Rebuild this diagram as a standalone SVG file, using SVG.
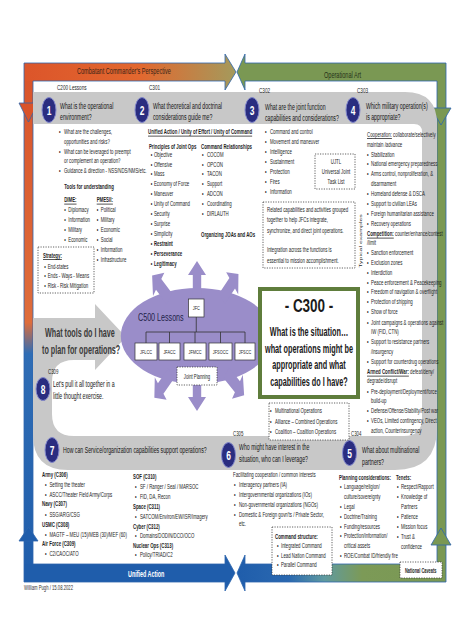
<svg xmlns="http://www.w3.org/2000/svg" width="474" height="632" viewBox="0 0 474 632">
<style>
text{font-family:"Liberation Sans",Arial,Helvetica,sans-serif;font-size:7.5px;fill:#1e1e1e}
.bd{font-weight:bold}
.ul{text-decoration:underline}
.q{font-size:9px;fill:#151515}
.num{font-size:13px;font-weight:bold;fill:#fff;text-anchor:middle}
.mid{text-anchor:middle}
.dot{fill:#fff;stroke:#3a3a3a;stroke-width:.8;stroke-dasharray:1.2 1.3}
.circ{fill:#2a2d80;stroke:#8288cc;stroke-width:1}
.org{fill:#fff;stroke:#333;stroke-width:.7}
.ln{fill:none;stroke:#333;stroke-width:.8}
.ob{fill:none;stroke:#2d66ad;stroke-width:.8}
.tiny{font-size:5.5px}
.big{font-size:12px;font-weight:bold;fill:#3a3a3a}
.c3{font-size:13px;font-weight:bold;fill:#1a1a1a;text-anchor:middle}
</style>
<defs>
<linearGradient id="gTop" gradientUnits="userSpaceOnUse" x1="24" y1="0" x2="236" y2="0">
<stop offset="0" stop-color="#dc552a"/><stop offset="0.55" stop-color="#e2682f"/><stop offset="1" stop-color="#a49a5c"/>
</linearGradient>
<linearGradient id="gLeft" gradientUnits="userSpaceOnUse" x1="0" y1="63" x2="0" y2="582">
<stop offset="0" stop-color="#d9532a"/><stop offset="0.5" stop-color="#de6d3c"/><stop offset="0.56" stop-color="#2f6db5"/><stop offset="1" stop-color="#1f5dab"/>
</linearGradient>
<linearGradient id="gBotR" gradientUnits="userSpaceOnUse" x1="236" y1="0" x2="446" y2="0">
<stop offset="0" stop-color="#1f5dab"/><stop offset="0.25" stop-color="#2a68b0"/><stop offset="0.42" stop-color="#5f9aa0"/><stop offset="0.6" stop-color="#7c9a57"/><stop offset="1" stop-color="#7a9853"/>
</linearGradient>
<path id="ray" d="M-7,10 L7,10 L7,-13 L15,-13 L0,-27 L-15,-13 L-7,-13 Z"/>
</defs>
<rect width="474" height="632" fill="#fff"/>

<g id="frame">
<rect x="24" y="63" width="9" height="519" fill="url(#gLeft)"/>
<rect x="437" y="63" width="9" height="519" fill="#7a9853"/>
<path d="M24,63 H225 V54 L236,72 L225,90 V81 H24 Z" fill="url(#gTop)"/>
<path d="M446,63 H245 V54 L237,72 L245,90 V81 H446 Z" fill="#7a9853"/>
<path d="M24,564 H225 V555 L235,573 L225,591 V582 H24 Z" fill="#1f5dab"/>
<path d="M446,564 H245 V555 L237,573 L245,591 V582 H446 Z" fill="url(#gBotR)"/>
<path class="ob" d="M225,63 H24 V582 H225 M245,582 H446 V63 H245 M225,81 H33 V564 H225 M245,564 H437 V81 H245"/>
<path class="ob" d="M225,63 V54 L236,72 L225,90 V81 M245,63 V54 L237,72 L245,90 V81 M225,564 V555 L235,573 L225,591 V582 M245,564 V555 L237,573 L245,591 V582"/>
<polygon points="19,103 38,103 28.5,122" fill="#d9532a" stroke="#2d66ad" stroke-width=".8"/>
<polygon points="19,541 38,541 28.5,527" fill="#1f5dab" stroke="#2d66ad" stroke-width=".8"/>
<polygon points="431,108 451,108 441,125" fill="#7a9853" stroke="#2d66ad" stroke-width=".8"/>
<polygon points="431,545 451,545 441,528" fill="#7a9853" stroke="#2d66ad" stroke-width=".8"/>
<g transform="translate(77,0) scale(.62,1)"><text x="0" y="74" style="font-size:9px;fill:#3a2418">Combatant Commander's Perspective</text></g>
<g transform="translate(324,0) scale(.62,1)"><text x="0" y="78" style="font-size:9px;fill:#26331a">Operational Art</text></g>
<g transform="translate(128,0) scale(.6,1)"><text x="0" y="577" class="bd" style="font-size:9px;fill:#fff">Unified Action</text></g>
</g>

<g id="track">
<path d="M33,92 L405,92 Q437,92 437,124 L437,428 Q437,470 395,470 L68,470 Q33,470 33,435 L33,318 L95,318 L95,304 L126,337 L95,370 L95,360 L74,360 Q52,360 52,382 L52,414 Q52,436 74,436 L404,436 Q422,436 422,418 L422,132 Q422,124 414,124 L33,124 Z" fill="#c8c8c8"/>
<g transform="translate(45,0) scale(.6,1)"><text class="big" x="0" y="337">What tools do I have</text></g>
<g transform="translate(42,0) scale(.6,1)"><text class="big" x="0" y="354">to plan for operations?</text></g>
</g>

<g id="c500">
<g transform="translate(197,336) scale(.6,1)" fill="#9a8dc9">
<ellipse cx="0" cy="0" rx="127" ry="48"/>
<use href="#ray" transform="translate(0,-48)"/>
<use href="#ray" transform="translate(49,-44) rotate(48)"/>
<use href="#ray" transform="translate(-53.8,-43.5) rotate(-51)"/>
<use href="#ray" transform="translate(0,48) rotate(180)"/>
<use href="#ray" transform="translate(57,42.9) rotate(127)"/>
<use href="#ray" transform="translate(-50.7,44) rotate(-131)"/>
</g>
<g transform="translate(138,0) scale(.65,1)"><text x="0" y="321" style="font-size:11px;fill:#23234a">C500 Lessons</text></g>
<rect class="org" x="188.5" y="299" width="15.5" height="18"/>
<g transform="translate(196.25,0) scale(.7,1)"><text class="tiny mid" x="0" y="310">JFC</text></g>
<rect class="org" x="135" y="343" width="22" height="17"/>
<rect class="org" x="159" y="343" width="21" height="17"/>
<rect class="org" x="184" y="343" width="22" height="17"/>
<rect class="org" x="209" y="343" width="23" height="17"/>
<rect class="org" x="235" y="343" width="20" height="17"/>
<g transform="translate(146,0) scale(.7,1)"><text class="tiny mid" x="0" y="354">JFLCC</text></g>
<g transform="translate(169.5,0) scale(.7,1)"><text class="tiny mid" x="0" y="354">JFACC</text></g>
<g transform="translate(195,0) scale(.7,1)"><text class="tiny mid" x="0" y="354">JFMCC</text></g>
<g transform="translate(220.5,0) scale(.7,1)"><text class="tiny mid" x="0" y="354">JFSOCC</text></g>
<g transform="translate(245,0) scale(.7,1)"><text class="tiny mid" x="0" y="354">JFSCC</text></g>
<rect class="dot" x="177" y="367" width="40" height="18"/>
<g transform="translate(197,0) scale(.6,1)"><text class="mid" x="0" y="379" style="font-size:7px">Joint Planning</text></g>
</g>

<g id="connectors">
<path class="ln" d="M196.25,317 V332 M146,332 H245 M146,332 V343 M169.5,332 V343 M195,332 V343 M220.5,332 V343 M245,332 V343"/>
</g>

<g id="c300">
<rect x="260" y="289" width="98" height="108" fill="#fff" stroke="#5f7d3c" stroke-width="4"/>
<g transform="translate(309,0) scale(.75,1)"><text x="0" y="312" class="mid bd" style="font-size:18px;fill:#1a1a1a">- C300 -</text></g>
<g transform="translate(309,0) scale(.56,1)">
<text class="c3" x="0" y="336">What is the situation…</text>
<text class="c3" x="0" y="353">what operations might be</text>
<text class="c3" x="0" y="369.5">appropriate and what</text>
<text class="c3" x="0" y="386">capabilities do I have?</text>
</g>
</g>

<g id="step1">
<g transform="translate(57,0) scale(.58,1)"><text x="0" y="90" style="font-size:8px">C200 Lessons</text></g>
<ellipse class="circ" cx="49" cy="110" rx="7" ry="12.5"/>
<g transform="translate(49,0) scale(.65,1)"><text class="num" x="0" y="114.6">1</text></g>
<g transform="translate(60,0) scale(.58,1)"><text class="q" x="0" y="109.5">What is the operational</text><text class="q" x="0" y="120.5">environment?</text></g>
</g>
<g id="step2">
<g transform="translate(149,0) scale(.58,1)"><text x="0" y="90" style="font-size:8px">C301</text></g>
<ellipse class="circ" cx="142" cy="110" rx="7" ry="12.5"/>
<g transform="translate(142,0) scale(.65,1)"><text class="num" x="0" y="114.6">2</text></g>
<g transform="translate(153,0) scale(.58,1)"><text class="q" x="0" y="109.5">What theoretical and doctrinal</text><text class="q" x="0" y="120.5">considerations guide me?</text></g>
</g>
<g id="step3">
<g transform="translate(259,0) scale(.58,1)"><text x="0" y="93" style="font-size:8px">C302</text></g>
<ellipse class="circ" cx="252" cy="110" rx="7" ry="12.5"/>
<g transform="translate(252,0) scale(.65,1)"><text class="num" x="0" y="114.6">3</text></g>
<g transform="translate(265,0) scale(.58,1)"><text class="q" x="0" y="110.5">What are the joint function</text><text class="q" x="0" y="121.5">capabilities and considerations?</text></g>
</g>
<g id="step4">
<g transform="translate(357,0) scale(.58,1)"><text x="0" y="93" style="font-size:8px">C303</text></g>
<ellipse class="circ" cx="353" cy="110" rx="7" ry="12.5"/>
<g transform="translate(353,0) scale(.65,1)"><text class="num" x="0" y="114.6">4</text></g>
<g transform="translate(366,0) scale(.58,1)"><text class="q" x="0" y="109.5">Which military operation(s)</text><text class="q" x="0" y="120.5">is appropriate?</text></g>
</g>
<g id="step5">
<g transform="translate(351,0) scale(.58,1)"><text x="0" y="436.5">C304</text></g>
<ellipse class="circ" cx="349.5" cy="453" rx="7" ry="12.5"/>
<g transform="translate(349.5,0) scale(.65,1)"><text class="num" x="0" y="457.6">5</text></g>
<g transform="translate(362,0) scale(.58,1)"><text class="q" x="0" y="453.5">What about multinational</text><text class="q" x="0" y="465.5">partners?</text></g>
</g>
<g id="step6">
<g transform="translate(233,0) scale(.58,1)"><text x="0" y="436.5">C305</text></g>
<ellipse class="circ" cx="228.5" cy="455" rx="7" ry="12.5"/>
<g transform="translate(228.5,0) scale(.65,1)"><text class="num" x="0" y="459.6">6</text></g>
<g transform="translate(239,0) scale(.58,1)"><text class="q" x="0" y="450.5">Who might have interest in the</text><text class="q" x="0" y="462.5">situation, who can I leverage?</text></g>
</g>
<g id="step7">
<ellipse class="circ" cx="52" cy="450" rx="7" ry="12.5"/>
<g transform="translate(52,0) scale(.65,1)"><text class="num" x="0" y="454.6">7</text></g>
<g transform="translate(63,0) scale(.58,1)"><text class="q" x="0" y="453.5">How can Service/organization capabilities support operations?</text></g>
</g>
<g id="step8">
<g transform="translate(48,0) scale(.58,1)"><text x="0" y="374.5">C309</text></g>
<ellipse class="circ" cx="43" cy="389" rx="7" ry="11.5"/>
<g transform="translate(43,0) scale(.65,1)"><text class="num" x="0" y="393.6">8</text></g>
<g transform="translate(53,0) scale(.58,1)"><text class="q" x="0" y="387.5">Let's pull it all together in a</text><text class="q" x="0" y="399.5">little thought exercise.</text></g>
</g>

<g id="panel1">
<rect class="dot" x="38" y="247" width="56" height="46"/>
<g transform="translate(59,0) scale(.58,1)">
<text y="134"><tspan x="0">•</tspan><tspan x="8.6">What are the challenges,</tspan></text>
<text x="8.6" y="144">opportunities and risks?</text>
<text y="154"><tspan x="0">•</tspan><tspan x="8.6">What can be leveraged to preempt</tspan></text>
<text x="8.6" y="163">or complement an operation?</text>
<text y="173"><tspan x="0">•</tspan><tspan x="8.6">Guidance &amp; direction - NSS/NDS/NMS/etc.</tspan></text>
<text x="9" y="189" class="bd">Tools for understanding</text>
<text x="9" y="202.5" class="bd ul">DIME:</text>
<text x="65" y="202.5" class="bd ul">PMESII:</text>
<text y="212.5"><tspan x="9">•</tspan><tspan x="16">Diplomacy</tspan></text>
<text y="222.5"><tspan x="9">•</tspan><tspan x="16">Information</tspan></text>
<text y="232.5"><tspan x="9">•</tspan><tspan x="16">Military</tspan></text>
<text y="242.5"><tspan x="9">•</tspan><tspan x="16">Economic</tspan></text>
<text y="212.5"><tspan x="65">•</tspan><tspan x="72">Political</tspan></text>
<text y="222.5"><tspan x="65">•</tspan><tspan x="72">Military</tspan></text>
<text y="232.5"><tspan x="65">•</tspan><tspan x="72">Economic</tspan></text>
<text y="242.5"><tspan x="65">•</tspan><tspan x="72">Social</tspan></text>
<text y="252.5"><tspan x="65">•</tspan><tspan x="72">Information</tspan></text>
<text y="262.5"><tspan x="65">•</tspan><tspan x="72">Infrastructure</tspan></text>
</g>
<g transform="translate(43,0) scale(.58,1)">
<text x="0" y="258" class="bd ul">Strategy:</text>
<text y="269"><tspan x="2.2">•</tspan><tspan x="8.1">End-states</tspan></text>
<text y="278.5"><tspan x="2.2">•</tspan><tspan x="8.1">Ends - Ways - Means</tspan></text>
<text y="288.5"><tspan x="2.2">•</tspan><tspan x="8.1">Risk - Risk Mitigation</tspan></text>
</g>
</g>

<g id="panel2">
<g transform="translate(148,0) scale(.58,1)">
<text x="0" y="134.5" class="bd ul">Unified Action / Unity of Effort / Unity of Command</text>
<text x="1.7" y="149.5" class="bd">Principles of Joint Ops</text>
<text y="157.5"><tspan x="4.6">•</tspan><tspan x="10.3">Objective</tspan></text>
<text y="167"><tspan x="4.6">•</tspan><tspan x="10.3">Offensive</tspan></text>
<text y="176.5"><tspan x="4.6">•</tspan><tspan x="10.3">Mass</tspan></text>
<text y="186.5"><tspan x="4.6">•</tspan><tspan x="10.3">Economy of Force</tspan></text>
<text y="196.5"><tspan x="4.6">•</tspan><tspan x="10.3">Maneuver</tspan></text>
<text y="206.5"><tspan x="4.6">•</tspan><tspan x="10.3">Unity of Command</tspan></text>
<text y="216.5"><tspan x="4.6">•</tspan><tspan x="10.3">Security</tspan></text>
<text y="226.5"><tspan x="4.6">•</tspan><tspan x="10.3">Surprise</tspan></text>
<text y="236.5"><tspan x="4.6">•</tspan><tspan x="10.3">Simplicity</tspan></text>
<text y="246.5" class="bd"><tspan x="4.6">•</tspan><tspan x="10.3">Restraint</tspan></text>
<text y="256.5" class="bd"><tspan x="4.6">•</tspan><tspan x="10.3">Perseverance</tspan></text>
<text y="266.5" class="bd"><tspan x="4.6">•</tspan><tspan x="10.3">Legitimacy</tspan></text>
</g>
<g transform="translate(201,0) scale(.58,1)">
<text x="0" y="149.5" class="bd">Command Relationships</text>
<text y="157.5"><tspan x="1.7">•</tspan><tspan x="10.3">COCOM</tspan></text>
<text y="167"><tspan x="1.7">•</tspan><tspan x="10.3">OPCON</tspan></text>
<text y="176.5"><tspan x="1.7">•</tspan><tspan x="10.3">TACON</tspan></text>
<text y="186.5"><tspan x="1.7">•</tspan><tspan x="10.3">Support</tspan></text>
<text y="196.5"><tspan x="1.7">•</tspan><tspan x="10.3">ADCON</tspan></text>
<text y="206.5"><tspan x="1.7">•</tspan><tspan x="10.3">Coordinating</tspan></text>
<text y="216.5"><tspan x="1.7">•</tspan><tspan x="10.3">DIRLAUTH</tspan></text>
<text x="0" y="237.5" class="bd">Organizing JOAs and AOs</text>
</g>
</g>

<g id="panel3">
<rect class="dot" x="315" y="154" width="40" height="35"/>
<rect class="dot" x="263" y="202" width="92" height="66"/>
<g transform="translate(265,0) scale(.58,1)">
<text y="134.5"><tspan x="0">•</tspan><tspan x="8.6">Command and control</tspan></text>
<text y="144.5"><tspan x="0">•</tspan><tspan x="8.6">Movement and maneuver</tspan></text>
<text y="154.5"><tspan x="0">•</tspan><tspan x="8.6">Intelligence</tspan></text>
<text y="164.5"><tspan x="0">•</tspan><tspan x="8.6">Sustainment</tspan></text>
<text y="174.5"><tspan x="0">•</tspan><tspan x="8.6">Protection</tspan></text>
<text y="184.5"><tspan x="0">•</tspan><tspan x="8.6">Fires</tspan></text>
<text y="194.5"><tspan x="0">•</tspan><tspan x="8.6">Information</tspan></text>
</g>
<g transform="translate(336,0) scale(.58,1)">
<text class="mid" x="0" y="164.5">UJTL</text>
<text class="mid" x="0" y="174.5">Universal Joint</text>
<text class="mid" x="0" y="184.5">Task List</text>
</g>
<g transform="translate(267,0) scale(.58,1)">
<text x="0" y="212.5">Related capabilities and activities grouped</text>
<text x="0" y="222.5">together to help JFCs integrate,</text>
<text x="0" y="233.5">synchronize, and direct joint operations.</text>
<text x="0" y="252.5">Integration across the functions is</text>
<text x="0" y="263.5">essential to mission accomplishment.</text>
</g>
</g>

<g id="panel4">
<g transform="translate(362,241) scale(.58,1) rotate(-90)"><text class="mid" x="0" y="0" style="font-size:7px">Typical examples</text></g>
<g transform="translate(367,0) scale(.58,1)">
<text x="0" y="137"><tspan class="ul">Cooperation:</tspan> collaborate/selectively</text>
<text x="0" y="147.5">maintain /advance</text>
<text y="157"><tspan x="0">•</tspan><tspan x="6.9">Stabilization</tspan></text>
<text y="166.5"><tspan x="0">•</tspan><tspan x="6.9">National emergency preparedness</tspan></text>
<text y="176.5"><tspan x="0">•</tspan><tspan x="6.9">Arms control, nonproliferation, &amp;</tspan></text>
<text x="6.9" y="186.5">disarmament</text>
<text y="196.5"><tspan x="0">•</tspan><tspan x="6.9">Homeland defense &amp; DSCA</tspan></text>
<text y="206.5"><tspan x="0">•</tspan><tspan x="6.9">Support to civilian LEAs</tspan></text>
<text y="216.5"><tspan x="0">•</tspan><tspan x="6.9">Foreign humanitarian assistance</tspan></text>
<text y="226.5"><tspan x="0">•</tspan><tspan x="6.9">Recovery operations</tspan></text>
<text x="0" y="236.5"><tspan class="bd ul">Competition:</tspan> counter/enhance/contest</text>
<text x="0" y="245.5">/limit</text>
<text y="255.5"><tspan x="0">•</tspan><tspan x="6.9">Sanction enforcement</tspan></text>
<text y="265.5"><tspan x="0">•</tspan><tspan x="6.9">Exclusion zones</tspan></text>
<text y="275.5"><tspan x="0">•</tspan><tspan x="6.9">Interdiction</tspan></text>
<text y="285.5"><tspan x="0">•</tspan><tspan x="6.9">Peace enforcement &amp; Peacekeeping</tspan></text>
<text y="294.5"><tspan x="0">•</tspan><tspan x="6.9">Freedom of navigation &amp; overflight</tspan></text>
<text y="304.5"><tspan x="0">•</tspan><tspan x="6.9">Protection of shipping</tspan></text>
<text y="314.5"><tspan x="0">•</tspan><tspan x="6.9">Show of force</tspan></text>
<text y="325"><tspan x="0">•</tspan><tspan x="6.9">Joint campaigns &amp; operations against</tspan></text>
<text x="6.9" y="334.5">IW (FID, CTN)</text>
<text y="344.5"><tspan x="0">•</tspan><tspan x="6.9">Support to resistance partners</tspan></text>
<text x="6.9" y="354.5">/insurgency</text>
<text y="364.5"><tspan x="0">•</tspan><tspan x="6.9">Support for counterdrug operations</tspan></text>
<text x="0" y="374.5"><tspan class="bd ul">Armed Conflict/War:</tspan> defeat/deny/</text>
<text x="0" y="383.5">degrade/disrupt</text>
<text y="394.5"><tspan x="0">•</tspan><tspan x="6.9">Pre-deployment/Deployment/force</tspan></text>
<text x="6.9" y="403.5">build-up</text>
<text y="413.5"><tspan x="0">•</tspan><tspan x="6.9">Defense/Offense/Stability/Post war</tspan></text>
<text y="423.5"><tspan x="0">•</tspan><tspan x="6.9">VEOs, Limited contingency, Direct</tspan></text>
<text x="6.9" y="433.5">action, Counterinsurgency</text>
</g>
</g>

<g id="multinational">
<rect class="dot" x="269" y="403" width="80" height="37"/>
<g transform="translate(270,0) scale(.58,1)">
<text y="413.5"><tspan x="0">•</tspan><tspan x="8.6">Multinational Operations</tspan></text>
<text y="424.5"><tspan x="0">•</tspan><tspan x="8.6">Alliance – Combined Operations</tspan></text>
<text y="434.5"><tspan x="0">•</tspan><tspan x="8.6">Coalition – Coalition Operations</tspan></text>
</g>
</g>

<g id="panel7">
<g transform="translate(42,0) scale(.58,1)">
<text x="0" y="477.5" class="bd">Army (C306)</text>
<text y="487.5"><tspan x="5.2">•</tspan><tspan x="12.9">Setting the theater</tspan></text>
<text y="497.5"><tspan x="5.2">•</tspan><tspan x="12.9">ASCC/Theater Field Army/Corps</tspan></text>
<text x="0" y="506.5" class="bd">Navy (C307)</text>
<text y="517.5"><tspan x="5.2">•</tspan><tspan x="12.9">SSG/ARG/CSG</tspan></text>
<text x="0" y="527.5" class="bd">USMC (C308)</text>
<text y="537.5"><tspan x="5.2">•</tspan><tspan x="12.9">MAGTF – MEU (15)/MEB (30)/MEF (60)</tspan></text>
<text x="0" y="546.5" class="bd">Air Force (C309)</text>
<text y="556.5"><tspan x="5.2">•</tspan><tspan x="12.9">C2/CAOC/ATO</tspan></text>
</g>
<g transform="translate(133,0) scale(.58,1)">
<text x="0" y="479.5" class="bd">SOF (C310)</text>
<text y="489.5"><tspan x="3.4">•</tspan><tspan x="12">SF / Ranger / Seal / MARSOC</tspan></text>
<text y="499.5"><tspan x="3.4">•</tspan><tspan x="12">FID, DA, Recon</tspan></text>
<text x="0" y="509.5" class="bd">Space (C311)</text>
<text y="519.5"><tspan x="3.4">•</tspan><tspan x="12">SATCOM/Environ/EW/ISR/Imagery</tspan></text>
<text x="0" y="529.5" class="bd">Cyber (C312)</text>
<text y="538.5"><tspan x="3.4">•</tspan><tspan x="12">Domains/DODIN/DCO/OCO</tspan></text>
<text x="0" y="548.5" class="bd">Nuclear Ops (C313)</text>
<text y="557.5"><tspan x="3.4">•</tspan><tspan x="12">Policy/TRIAD/C2</tspan></text>
</g>
</g>

<g id="panel6">
<g transform="translate(233,0) scale(.58,1)">
<text x="0" y="477.5">Facilitating cooperation / common interests</text>
<text y="487.5"><tspan x="1.7">•</tspan><tspan x="10.3">Interagency partners (IA)</tspan></text>
<text y="497.5"><tspan x="1.7">•</tspan><tspan x="10.3">Intergovernmental organizations (IOs)</tspan></text>
<text y="507.5"><tspan x="1.7">•</tspan><tspan x="10.3">Non-governmental organizations (NGOs)</tspan></text>
<text y="517.5"><tspan x="1.7">•</tspan><tspan x="10.3">Domestic &amp; Foreign govn'ts / Private Sector,</tspan></text>
<text x="10.3" y="526.5">etc.</text>
</g>
<rect class="dot" x="272" y="527" width="60" height="48"/>
<g transform="translate(275,0) scale(.58,1)">
<text x="0" y="539.5" class="bd">Command structure:</text>
<text y="548.5"><tspan x="3.4">•</tspan><tspan x="10.3">Integrated Command</tspan></text>
<text y="558.5"><tspan x="3.4">•</tspan><tspan x="10.3">Lead Nation Command</tspan></text>
<text y="567.5"><tspan x="3.4">•</tspan><tspan x="10.3">Parallel Command</tspan></text>
</g>
</g>

<g id="panel5">
<g transform="translate(339,0) scale(.58,1)">
<text x="0" y="480.5" class="bd">Planning considerations:</text>
<text y="489.5"><tspan x="1.7">•</tspan><tspan x="8.6">Language/religion/</tspan></text>
<text x="8.6" y="499.5">culture/sovereignty</text>
<text y="509.5"><tspan x="1.7">•</tspan><tspan x="8.6">Legal</tspan></text>
<text y="519.5"><tspan x="1.7">•</tspan><tspan x="8.6">Doctrine/Training</tspan></text>
<text y="529.5"><tspan x="1.7">•</tspan><tspan x="8.6">Funding/resources</tspan></text>
<text y="538.5"><tspan x="1.7">•</tspan><tspan x="8.6">Protection/information/</tspan></text>
<text x="8.6" y="548.5">critical assets</text>
<text y="558.5"><tspan x="1.7">•</tspan><tspan x="8.6">ROE/Combat ID/friendly fire</tspan></text>
</g>
<g transform="translate(396,0) scale(.58,1)">
<text x="0" y="480.5" class="bd">Tenets:</text>
<text y="489.5"><tspan x="1.7">•</tspan><tspan x="8.6">Respect/Rapport</tspan></text>
<text y="499.5"><tspan x="1.7">•</tspan><tspan x="8.6">Knowledge of</tspan></text>
<text x="8.6" y="509.5">Partners</text>
<text y="519.5"><tspan x="1.7">•</tspan><tspan x="8.6">Patience</tspan></text>
<text y="529.5"><tspan x="1.7">•</tspan><tspan x="8.6">Mission focus</tspan></text>
<text y="539.5"><tspan x="1.7">•</tspan><tspan x="8.6">Trust &amp;</tspan></text>
<text x="8.6" y="549.5">confidence</text>
</g>
</g>

<g id="caveats">
<rect class="dot" x="400" y="562" width="42" height="16"/>
<g transform="translate(405,0) scale(.52,1)"><text x="0" y="573" class="bd">National Caveats</text></g>
</g>

<g id="credit">
<g transform="translate(24,0) scale(.6,1)"><text x="0" y="590" style="font-size:7px;fill:#333">William Pugh / 15.08.2022</text></g>
</g>
</svg>
